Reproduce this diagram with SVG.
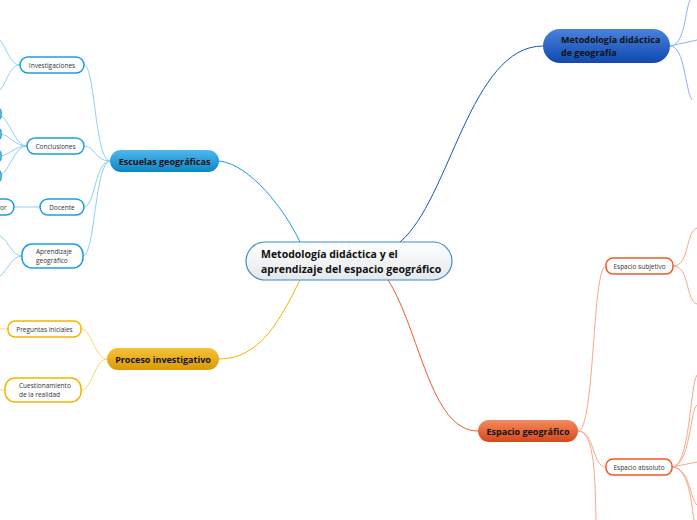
<svg xmlns="http://www.w3.org/2000/svg" width="697" height="520" viewBox="0 0 697 520">
<defs>
<linearGradient id="gc" x1="0" y1="0" x2="0" y2="1"><stop offset="0" stop-color="#ffffff"/><stop offset="1" stop-color="#e4e8ec"/></linearGradient>
<linearGradient id="gb" x1="0" y1="0" x2="0" y2="1"><stop offset="0" stop-color="#4fb8ec"/><stop offset="1" stop-color="#0a86c6"/></linearGradient>
<linearGradient id="gd" x1="0" y1="0" x2="0" y2="1"><stop offset="0" stop-color="#4a82dc"/><stop offset="1" stop-color="#0f48b0"/></linearGradient>
<linearGradient id="gr" x1="0" y1="0" x2="0" y2="1"><stop offset="0" stop-color="#f58a5e"/><stop offset="1" stop-color="#d4481c"/></linearGradient>
<linearGradient id="gy" x1="0" y1="0" x2="0" y2="1"><stop offset="0" stop-color="#f6c23a"/><stop offset="1" stop-color="#d99a04"/></linearGradient>
</defs>
<style>
text{font-family:"Open Sans","Noto Sans","DejaVu Sans",sans-serif}
.m{font-size:9px;font-weight:bold;fill:#111}
.s{font-size:6.5px;fill:#333}
.c{fill:none;stroke-width:1}
.sb{fill:#fff;stroke:#1a9ee0;stroke-width:1.5}
.sy{fill:#fff;stroke:#f5b400;stroke-width:1.5}
.sr{fill:#fff;stroke:#f05a28;stroke-width:1.5}
</style>
<g id="connectors">
<path class="c" d="M300 242 C285 210 250 164 219 161" stroke="#1a9ee0" stroke-width="2"/>
<path class="c" d="M400 242 C450 200 470 46 543 46" stroke="#1555c8" stroke-width="2"/>
<path class="c" d="M300 280 C280 320 260 359 219 359" stroke="#f5b400" stroke-width="2"/>
<path class="c" d="M388 280 C420 330 430 431 478 431" stroke="#f05a28" stroke-width="2"/>
<g stroke="#8fd0f2">
<path class="c" d="M110 161 C95 161 95 65 84 65"/>
<path class="c" d="M110 161 C95 161 95 146 84 146"/>
<path class="c" d="M110 161 C95 161 95 207 84 207"/>
<path class="c" d="M110 161 C95 161 95 256 83 256"/>
<path class="c" d="M20 65 C10 65 8 50 0 40"/><path class="c" d="M20 65 C10 65 8 80 0 90"/>
<path class="c" d="M27 146 C15 146 10 120 0 115"/><path class="c" d="M27 146 C15 146 10 135 0 134"/><path class="c" d="M27 146 C15 146 10 155 0 156"/><path class="c" d="M27 146 C15 146 10 170 0 176"/>
<path class="c" d="M40 207 L14 207"/>
<path class="c" d="M22 256 C12 256 8 240 0 236"/><path class="c" d="M22 256 C12 256 8 270 0 276"/>
</g>
<g stroke="#ffd56a">
<path class="c" d="M107 359 C95 359 92 329 81 329"/>
<path class="c" d="M107 359 C95 359 92 390 81 390"/>
<path class="c" d="M8 329 L0 329"/><path class="c" d="M5 390 L0 390"/>
</g>
<g stroke="#f8a888">
<path class="c" d="M578 431 C595 431 592 266 606 266"/>
<path class="c" d="M578 431 C595 431 592 467 606 467"/>
<path class="c" d="M578 431 C595 431 595 480 596 520"/>
<path class="c" d="M673 266 C690 266 685 232 697 228"/><path class="c" d="M673 266 C690 266 685 300 697 304"/>
<path class="c" d="M672 467 C690 467 690 385 697 375"/><path class="c" d="M672 467 C690 467 690 410 697 405"/><path class="c" d="M672 467 L697 462"/><path class="c" d="M672 467 C690 467 690 500 697 505"/><path class="c" d="M672 467 C690 467 692 510 694 520"/>
</g>
<g stroke="#8fb2ee">
<path class="c" d="M670 46 C685 46 685 10 690 0"/><path class="c" d="M670 46 L697 40"/><path class="c" d="M670 46 C685 46 685 90 692 100"/>
</g>
</g>
<g id="central"><rect x="246" y="242" width="206" height="38" rx="19" fill="url(#gc)" stroke="#3a8ccc" stroke-width="1.2"/>
<text x="261" y="258" style="font-size:10.5px;font-weight:bold;fill:#111">Metodología didáctica y el</text>
<text x="261" y="273" style="font-size:10.5px;font-weight:bold;fill:#111">aprendizaje del espacio geográfico</text></g>
<g id="escuelas"><rect x="110" y="150" width="109" height="22" rx="11" fill="url(#gb)"/><text class="m" x="164.5" y="164.5" text-anchor="middle">Escuelas geográficas</text></g>
<g id="metodologia"><rect x="543" y="29" width="127" height="34" rx="17" fill="url(#gd)"/><text class="m" x="561" y="43">Metodología didáctica</text><text class="m" x="561" y="56">de geografía</text></g>
<g id="espacio"><rect x="478" y="420" width="100" height="22" rx="11" fill="url(#gr)"/><text class="m" x="528" y="434.5" text-anchor="middle">Espacio geográfico</text></g>
<g id="proceso"><rect x="107" y="348" width="112" height="22" rx="11" fill="url(#gy)"/><text class="m" x="163" y="362.5" text-anchor="middle">Proceso investigativo</text></g>
<g id="investigaciones"><rect class="sb" x="20" y="57" width="64" height="16" rx="8"/><text class="s" x="52" y="67.5" text-anchor="middle">Investigaciones</text></g>
<g id="conclusiones"><rect class="sb" x="27" y="138" width="57" height="16" rx="8"/><text class="s" x="55.5" y="148.5" text-anchor="middle">Conclusiones</text></g>
<g id="docente"><rect class="sb" x="40" y="199" width="44" height="16" rx="8"/><text class="s" x="62" y="209.5" text-anchor="middle">Docente</text></g>
<g id="or"><rect class="sb" x="-12" y="199" width="26" height="16" rx="8"/><text class="s" x="0" y="209.5">or</text></g>
<g id="stubs"><rect class="sb" x="-8" y="108" width="9" height="12" rx="4"/><rect class="sb" x="-8" y="128" width="9" height="12" rx="4"/><rect class="sb" x="-8" y="150" width="9" height="12" rx="4"/><rect class="sb" x="-8" y="170" width="9" height="12" rx="4"/></g>
<g id="aprendizaje"><rect class="sb" x="22" y="244" width="61" height="24" rx="10"/><text class="s" x="36" y="254">Aprendizaje</text><text class="s" x="36" y="263">geográfico</text></g>
<g id="preguntas"><rect class="sy" x="8" y="321" width="73" height="16" rx="7"/><text class="s" x="44.5" y="331.5" text-anchor="middle">Preguntas iniciales</text></g>
<g id="cuestionamiento"><rect class="sy" x="5" y="378" width="76" height="24" rx="10"/><text class="s" x="19" y="388">Cuestionamiento</text><text class="s" x="19" y="397">de la realidad</text></g>
<g id="subjetivo"><rect class="sr" x="606" y="258" width="67" height="16" rx="7"/><text class="s" x="639.5" y="268.5" text-anchor="middle">Espacio subjetivo</text></g>
<g id="absoluto"><rect class="sr" x="606" y="459" width="66" height="16" rx="7"/><text class="s" x="639" y="469.5" text-anchor="middle">Espacio absoluto</text></g>
</svg>
